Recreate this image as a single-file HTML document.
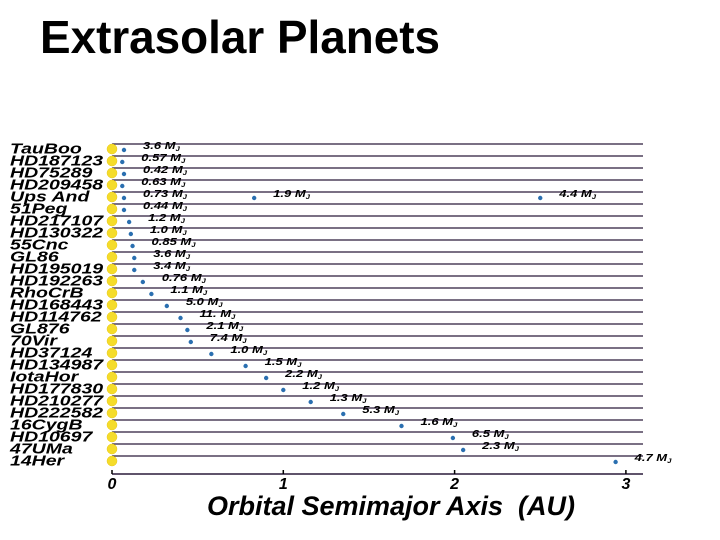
<!DOCTYPE html>
<html><head><meta charset="utf-8"><style>
html,body{margin:0;padding:0;background:#fff;width:720px;height:540px;overflow:hidden}
svg{display:block}
</style></head><body>
<svg id="c" width="720" height="540" xmlns="http://www.w3.org/2000/svg">
<text x="40" y="53" font-family="Liberation Sans, sans-serif" font-weight="bold" font-size="46" fill="#000" textLength="400" lengthAdjust="spacingAndGlyphs">Extrasolar Planets</text>
<text x="391" y="515" text-anchor="middle" font-family="Liberation Sans, sans-serif" font-weight="bold" font-style="italic" font-size="27" fill="#000" xml:space="preserve">Orbital Semimajor Axis  (AU)</text>
<g id="g"></g>
</svg>
<script>
const stars = ["TauBoo","HD187123","HD75289","HD209458","Ups And","51Peg","HD217107","HD130322","55Cnc","GL86","HD195019","HD192263","RhoCrB","HD168443","HD114762","GL876","70Vir","HD37124","HD134987","IotaHor","HD177830","HD210277","HD222582","16CygB","HD10697","47UMa","14Her"];
const planetRow = [0,1,2,3,4,4,4,5,6,7,8,9,10,11,12,13,14,15,16,17,18,19,20,21,22,23,24,25,26];
const planetAU = [0.07,0.06,0.07,0.06,0.07,0.83,2.50,0.07,0.10,0.11,0.12,0.13,0.13,0.18,0.23,0.32,0.40,0.44,0.46,0.58,0.78,0.90,1.00,1.16,1.35,1.69,1.99,2.05,2.94];
const planetMass = ["3.6","0.57","0.42","0.63","0.73","1.9","4.4","0.44","1.2","1.0","0.85","3.6","3.4","0.76","1.1","5.0","11.","2.1","7.4","1.0","1.5","2.2","1.2","1.3","5.3","1.6","6.5","2.3","4.7"];
const xTicks = [0,1,2,3];

const NS="http://www.w3.org/2000/svg";
const g=document.getElementById('g');
const x0=112, pxAU=171.3, y0=144, rowH=12;
const xs=v=>x0+v*pxAU;
const yLine=i=>y0+i*rowH;
function mk(t,a){const e=document.createElementNS(NS,t);for(const k in a)e.setAttribute(k,a[k]);g.appendChild(e);return e;}

stars.forEach((s,i)=>{
  const l=mk('line',{x1:112,x2:643,y1:yLine(i),y2:yLine(i),stroke:'#2a1a3a','stroke-width':1.3});
  
  
  const t=mk('text',{x:0,y:0,transform:`translate(10,${yLine(i)+9.5}) scale(1.3,1)`,'font-family':'Liberation Sans, sans-serif','font-style':'italic','font-weight':'bold','font-size':15,fill:'#000'});
  t.textContent=s;
  
  
  const c=mk('circle',{cx:112,cy:yLine(i)+5,r:5,fill:'#f5dc2a',stroke:'#e8c81a','stroke-width':0.5});
  
  
});
planetAU.forEach((a,j)=>{
  const y=yLine(planetRow[j])+6;
  const p=mk('circle',{cx:xs(a),cy:y,r:2.2,fill:'#2a6fb0'});
  
  
  const t=mk('text',{x:0,y:0,transform:`translate(${xs(a)+19},${y-1}) scale(1.3,1)`,'font-family':'Liberation Sans, sans-serif','font-style':'italic','font-weight':'bold','font-size':10,fill:'#000'});
  t.innerHTML=planetMass[j]+' M<tspan font-size="6" dy="2">J</tspan>';
  
  
});
const ax=mk('line',{x1:112,x2:643,y1:474,y2:474,stroke:'#2a1a3a','stroke-width':1.5});


xTicks.forEach(v=>{
  const tk=mk('line',{x1:xs(v),x2:xs(v),y1:470,y2:474,stroke:'#000','stroke-width':1.5});
  
  
  const t=mk('text',{x:xs(v),y:489,'text-anchor':'middle','font-family':'Liberation Sans, sans-serif','font-style':'italic','font-weight':'bold','font-size':16,fill:'#000'});
  t.textContent=v;
  
  
});
</script>
</body></html>
